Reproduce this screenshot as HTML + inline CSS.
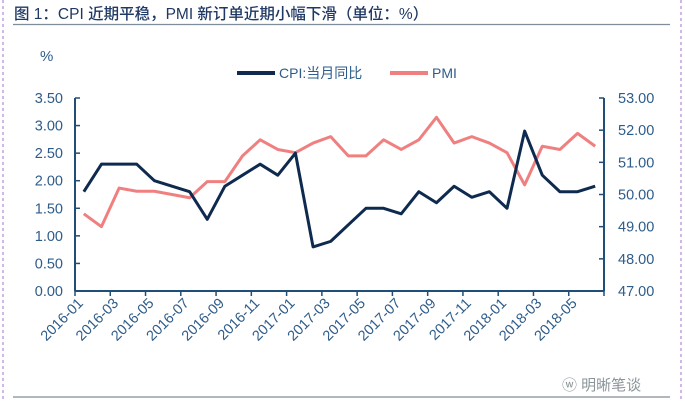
<!DOCTYPE html>
<html><head><meta charset="utf-8"><style>
body{margin:0;background:#fff;width:685px;height:401px;overflow:hidden;font-family:"Liberation Sans","Noto Sans CJK SC",sans-serif}
</style></head><body>
<svg width="685" height="401" style="position:absolute;left:0;top:0">
<line x1="3" y1="0" x2="3" y2="401" stroke="#a070d0" stroke-dasharray="3,3"/>
<line x1="681" y1="0" x2="681" y2="401" stroke="#a070d0" stroke-dasharray="3,3"/>
<text x="14" y="19" font-size="15.5" font-weight="500" fill="#1f3864">图 1：CPI 近期平稳，PMI 新订单近期小幅下滑（单位：%）</text>
<line x1="13" y1="24.5" x2="670" y2="24.5" stroke="#7f8c99" stroke-width="1.2"/>
<line x1="13" y1="397" x2="670" y2="397" stroke="#7f8c99" stroke-width="1.2"/>
<text x="40" y="61" font-size="15" fill="#2e5c8a">%</text>
<g>
<line x1="237" y1="73" x2="275" y2="73" stroke="#0e2a4f" stroke-width="4"/>
<text x="279" y="78" font-size="14" fill="#2e5c8a">CPI:当月同比</text>
<line x1="390" y1="73" x2="428" y2="73" stroke="#f08080" stroke-width="4"/>
<text x="432" y="78" font-size="14" fill="#2e5c8a">PMI</text>
</g>
<g id="plot"></g>
<text x="562" y="390" font-size="15" fill="#8a9499">ⓦ 明晰笔谈</text>
</svg>
<script>
const months=["2016-01","2016-02","2016-03","2016-04","2016-05","2016-06","2016-07","2016-08","2016-09","2016-10","2016-11","2016-12","2017-01","2017-02","2017-03","2017-04","2017-05","2017-06","2017-07","2017-08","2017-09","2017-10","2017-11","2017-12","2018-01","2018-02","2018-03","2018-04","2018-05","2018-06"];
const cpi=[1.8,2.3,2.3,2.3,2.0,1.9,1.8,1.3,1.9,2.1,2.3,2.1,2.5,0.8,0.9,1.2,1.5,1.5,1.4,1.8,1.6,1.9,1.7,1.8,1.5,2.9,2.1,1.8,1.8,1.9];
const pmi=[49.4,49.0,50.2,50.1,50.1,50.0,49.9,50.4,50.4,51.2,51.7,51.4,51.3,51.6,51.8,51.2,51.2,51.7,51.4,51.7,52.4,51.6,51.8,51.6,51.3,50.3,51.5,51.4,51.9,51.5];
const leftTicks=["0.00","0.50","1.00","1.50","2.00","2.50","3.00","3.50"];
const rightTicks=["47.00","48.00","49.00","50.00","51.00","52.00","53.00"];
const X0=75,X1=604,Y0=291,Y1=98;
const ns="http://www.w3.org/2000/svg";
const g=document.getElementById('plot');
const step=(X1-X0)/months.length;
const xc=i=>X0+step*(i+0.5);
const yl=v=>Y0-(v-0)/(3.5-0)*(Y0-Y1);
const yr=v=>Y0-(v-47)/(53-47)*(Y0-Y1);
function mk(t,a){const e=document.createElementNS(ns,t);for(const k in a)e.setAttribute(k,a[k]);g.appendChild(e);return e;}
const C="#1f4e79",TC="#2e5c8a";
let e;
e=mk('line',{x1:X0,y1:Y1,x2:X0,y2:Y0,stroke:C,'stroke-width':2});


e=mk('line',{x1:X1,y1:Y1,x2:X1,y2:Y0,stroke:C,'stroke-width':2});


e=mk('line',{x1:X0,y1:Y0,x2:X1,y2:Y0,stroke:C,'stroke-width':2});


leftTicks.forEach(t=>{const y=yl(parseFloat(t));
 mk('line',{x1:X0,y1:y,x2:X0+5,y2:y,stroke:C,'stroke-width':1.5});
 e=mk('text',{x:X0-12,y:y+5,'font-size':14.5,fill:TC,'text-anchor':'end'});e.textContent=t;
 
 });
rightTicks.forEach(t=>{const y=yr(parseFloat(t));
 mk('line',{x1:X1-5,y1:y,x2:X1,y2:y,stroke:C,'stroke-width':1.5});
 e=mk('text',{x:X1+14,y:y+5,'font-size':14.5,fill:TC});e.textContent=t;
 
 });
months.forEach((m,i)=>{if(i%2)return;const x=X0+step*i;
 mk('line',{x1:x,y1:Y0,x2:x,y2:Y0+5,stroke:C,'stroke-width':1.5});
 e=mk('text',{x:x+9,y:Y0+13,'font-size':14.5,fill:TC,'text-anchor':'end',transform:`rotate(-45 ${x+9} ${Y0+13})`});e.textContent=m;
 
 });
mk('line',{x1:X1,y1:Y0,x2:X1,y2:Y0+5,stroke:C,'stroke-width':1.5});
e=mk('polyline',{points:pmi.map((v,i)=>xc(i)+','+yr(v)).join(' '),fill:'none',stroke:'#f08080','stroke-width':3,'stroke-linejoin':'round'});


e=mk('polyline',{points:cpi.map((v,i)=>xc(i)+','+yl(v)).join(' '),fill:'none',stroke:'#0e2a4f','stroke-width':3,'stroke-linejoin':'round'});


</script>
</body></html>
